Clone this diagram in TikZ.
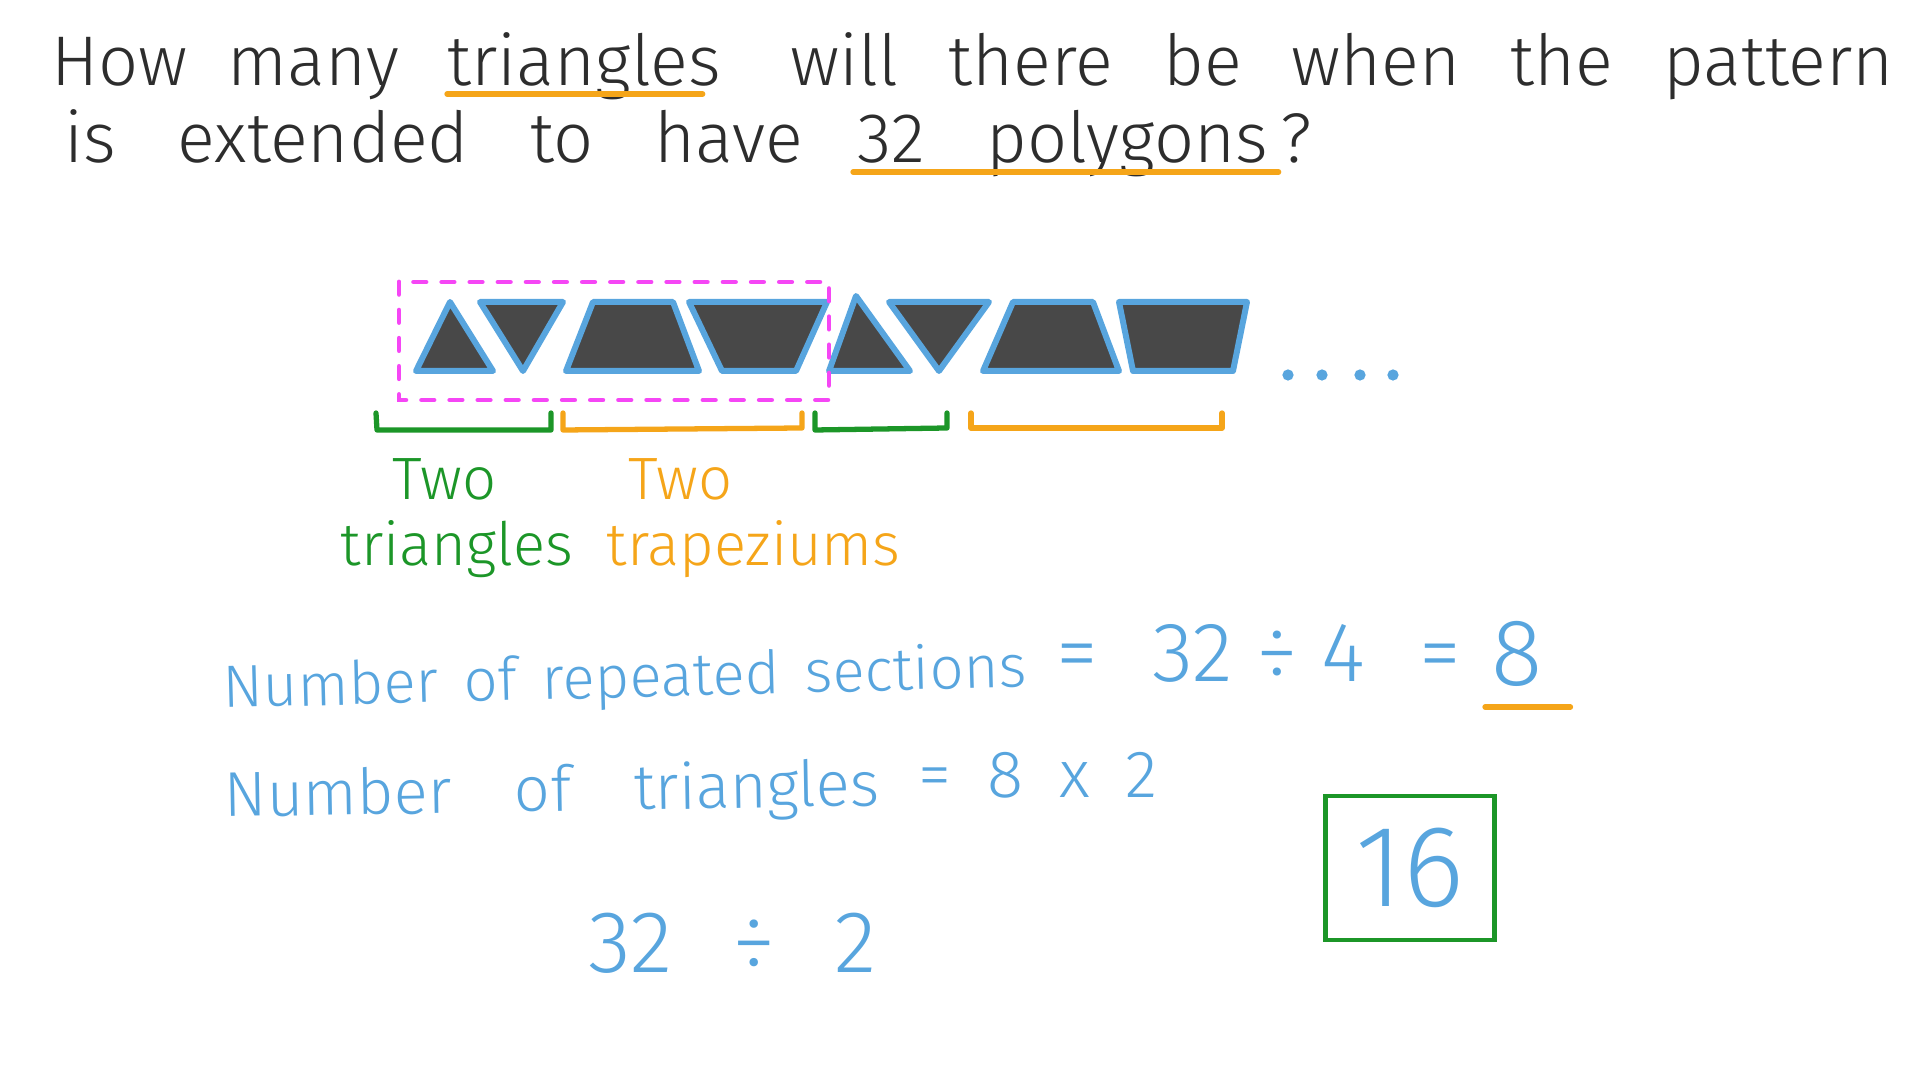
\documentclass[tikz,border=0pt]{standalone}
\usepackage{fontspec}
\setmainfont{Fira Sans}[UprightFont=* Light]
\usetikzlibrary{positioning}

\definecolor{penblue}{RGB}{88,165,222}
\definecolor{pengreen}{RGB}{28,150,40}
\definecolor{penorange}{RGB}{245,165,25}
\definecolor{penpink}{RGB}{245,70,245}
\definecolor{shapegray}{RGB}{72,72,72}
\definecolor{inkgray}{RGB}{45,45,45}

\tikzset{
  piece/.style={fill=shapegray, draw=penblue, line width=1.7pt, line join=round, line cap=round},
  bracket/.style={line width=1.5pt, line cap=round, line join=round},
  words/.style={inner sep=0pt, anchor=base west},
}

\begin{document}
\begin{tikzpicture}[x=0.01cm, y=-0.01cm]
   \useasboundingbox (0,0) rectangle (1920,1080);
   \def\Yt{302}
   \def\Yb{371}

	% question
        \node[words, text=inkgray] (qa) at (51,86) {\fontsize{20}{24}\selectfont\makebox[3.47cm][s]{How many}};
        \node[words, text=inkgray] (qb) at (447,86) {\fontsize{20}{24}\selectfont triangles};
        \node[words, text=inkgray] (qc) at (790,86) {\fontsize{20}{24}\selectfont\makebox[11.02cm][s]{will there be when the pattern}};
        \node[words, text=inkgray] (qd) at (64,163) {\fontsize{20}{24}\selectfont\makebox[7.38cm][s]{is extended to have}};
        \node[words, text=inkgray] (qe) at (857,163) {\fontsize{20}{24}\selectfont\makebox[4.1cm][s]{32 polygons}};
        \node[words, text=inkgray] (qf) at (1280,163) {\fontsize{20}{24}\selectfont ?};
        \draw[bracket, penorange] ([shift={(0,8)}]qb.base west) -- ([shift={(-19,8)}]qb.base east);
        \draw[bracket, penorange] ([shift={(-4,9)}]qe.base west) -- ([shift={(10,9)}]qe.base east);

	% pattern
        \draw[piece] (450,\Yt) -- (493,\Yb) -- (416,\Yb) -- cycle;
        \draw[piece] (480,\Yt) -- (563,\Yt) -- (523,\Yb) -- cycle;
        \draw[piece] (593,\Yt) -- (673,\Yt) -- (699,\Yb) -- (566,\Yb) -- cycle;
        \draw[piece] (689,\Yt) -- (827,\Yt) -- (796,\Yb) -- (722,\Yb) -- cycle;
        \draw[piece] (856,296) -- (910,\Yb) -- (829,\Yb) -- cycle;
        \draw[piece] (889,\Yt) -- (989,\Yt) -- (939,\Yb) -- cycle;
        \draw[piece] (1013,\Yt) -- (1093,\Yt) -- (1119,\Yb) -- (983,\Yb) -- cycle;
        \draw[piece] (1119,\Yt) -- (1247,\Yt) -- (1233,\Yb) -- (1133,\Yb) -- cycle;
	% dots
        \foreach \x in {1288,1322,1360,1393}
          \fill[penblue] (\x,375) circle (1.6pt);
        % repeated section
        \draw[penpink, line width=1.4pt, dash pattern=on 3.5pt off 4.5pt, line cap=round] (399,282) rectangle (829,400);

        % brackets
        \draw[bracket, pengreen] (376,413) -- (377,430) -- (551,430) -- (551,413);
        \draw[bracket, penorange] (563,413) -- (563,430) -- (802,428) -- (802,413);
        \draw[bracket, pengreen] (815,413) -- (815,430) -- (947,428) -- (947,413);
        \draw[bracket, penorange] (971,413) -- (971,428) -- (1222,428) -- (1222,413);
        % labels
        \node[words, text=pengreen] (ta) at (392,500) {\fontsize{17}{20}\selectfont Two};
        \node[words, text=pengreen] (tb) at (340,566) {\fontsize{17}{20}\selectfont triangles};
        \node[words, text=penorange] (za) at (628,500) {\fontsize{17}{20}\selectfont Two};
        \node[words, text=penorange] (zb) at (606,566) {\fontsize{17}{20}\selectfont trapeziums};

	% working
        \node[words, text=penblue, rotate=1.5] (wa) at (223,708) {\fontsize{17}{20}\selectfont\makebox[8.03cm][s]{Number of repeated sections}};
        \node[words, text=penblue] (wb) at (1056,682) {\fontsize{24}{28}\selectfont\makebox[4.04cm][s]{= 32\;÷\;4 =}};
        \node[words, text=penblue] (wc) at (1491,686) {\fontsize{27}{30}\selectfont 8};
        \draw[bracket, penorange] ([shift={(-6,21)}]wc.base west) -- ([shift={(27,21)}]wc.base east);
        \node[words, text=penblue, rotate=1] (wd) at (224,817) {\fontsize{18}{21}\selectfont\makebox[6.55cm][s]{Number of triangles}};
        \node[words, text=penblue] (we) at (918,798) {\fontsize{19}{22}\selectfont\makebox[2.39cm][s]{= 8 x 2}};
        \node[words, text=penblue] (wf) at (588,973) {\fontsize{25}{30}\selectfont\makebox[2.88cm][s]{32 ÷ 2}};
        % answer
        \node[draw=pengreen, line width=1.2pt, minimum width=1.69cm, minimum height=1.44cm, text=penblue] (ans) at (1410,868) {\fontsize{33}{36}\selectfont 16};
\end{tikzpicture}
\end{document}
